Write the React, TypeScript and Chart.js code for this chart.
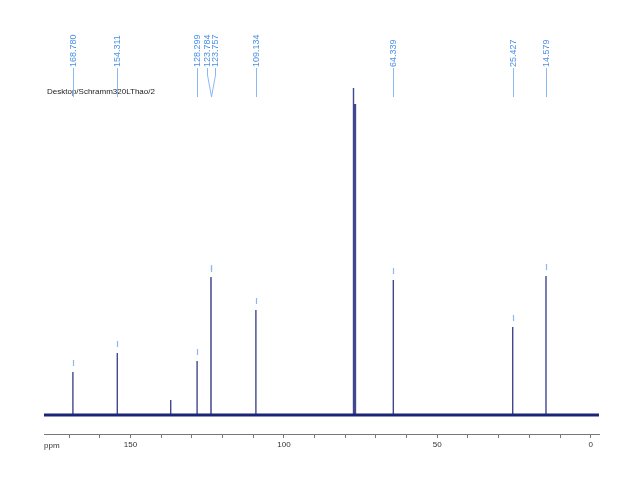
import React, { useEffect, useRef } from "react";
import { Chart, registerables } from "chart.js";

Chart.register(...registerables);

// ---- data ----
const peakPpm = [168.78, 154.311, 136.9, 128.299, 123.784, 123.757, 109.134, 77.32, 77.0, 76.68, 64.339, 25.427, 14.579];
const peakIntensity = [43, 62, 15, 54, 138, 137, 105, 327, 311, 311, 135, 88, 139];
const pickedPpm = [168.78, 154.311, 128.299, 123.784, 123.757, 109.134, 64.339, 25.427, 14.579];
const pickedLabels = ["168.780", "154.311", "128.299", "123.784", "123.757", "109.134", "64.339", "25.427", "14.579"];
const axisTickValues = [0, 10, 20, 30, 40, 50, 60, 70, 80, 90, 100, 110, 120, 130, 140, 150, 160, 170];
const axisLabelValues = [0, 50, 100, 150];
const xRange = [-2.7, 178.2];
const yRange = [-19, 327];
const sampleName = "Desktop/Schramm320LThao/2";
const axisUnit = "ppm";

const NAVY = "#1c2478";
const PEAK = "rgba(32,40,122,0.85)";
const BLUE_TEXT = "#4a90e6";
const BLUE_LINE = "#8cb8f2";

function intensityAt(ppm: number): number {
  let best = 0;
  let bd = Infinity;
  peakPpm.forEach((p, i) => {
    const d = Math.abs(p - ppm);
    if (d < bd) {
      bd = d;
      best = peakIntensity[i];
    }
  });
  return best;
}

const annotationPlugin = {
  id: "nmrAnnotations",
  afterDatasetsDraw(chart: any) {
    const ctx = chart.ctx;
    const xs = chart.scales.x;
    const ys = chart.scales.y;
    ctx.save();

    // sample name
    ctx.fillStyle = "#222";
    ctx.font = "8px 'Liberation Sans', Arial, sans-serif";
    ctx.textBaseline = "middle";
    ctx.textAlign = "left";
    ctx.fillText(sampleName, 47, 92);

    // unit label on axis
    ctx.fillStyle = "#333";
    ctx.font = "8px 'Liberation Sans', Arial, sans-serif";
    ctx.fillText(axisUnit, xs.left, 446);

    // label positions (spread colliding labels around their group center)
    const items = pickedPpm.map((p, i) => ({ px: xs.getPixelForValue(p), lx: 0, text: pickedLabels[i], ppm: p }));
    items.sort((a, b) => a.px - b.px);
    const gap = 8;
    const groups: any[][] = [];
    items.forEach((it) => {
      const g = groups[groups.length - 1];
      if (g && it.px - g[g.length - 1].px < gap) g.push(it);
      else groups.push([it]);
    });
    groups.forEach((g) => {
      const mean = g.reduce((s, it) => s + it.px, 0) / g.length;
      const start = mean - ((g.length - 1) * gap) / 2;
      g.forEach((it, k) => (it.lx = start + k * gap));
    });

    const textBottom = 68;
    const bendY = 75;
    const lineEnd = 97;
    ctx.font = "9px 'Liberation Sans', Arial, sans-serif";
    items.forEach((it) => {
      // connector
      ctx.strokeStyle = BLUE_LINE;
      ctx.lineWidth = 1;
      ctx.beginPath();
      ctx.moveTo(Math.round(it.lx) + 0.5, textBottom);
      if (Math.abs(it.lx - it.px) < 0.5) {
        ctx.lineTo(Math.round(it.px) + 0.5, lineEnd);
      } else {
        ctx.lineTo(Math.round(it.lx) + 0.5, bendY);
        ctx.lineTo(Math.round(it.px) + 0.5, lineEnd);
      }
      ctx.stroke();
      // text
      ctx.save();
      ctx.translate(Math.round(it.lx) + 0.5, textBottom - 1);
      ctx.rotate(-Math.PI / 2);
      ctx.fillStyle = BLUE_TEXT;
      ctx.textAlign = "left";
      ctx.textBaseline = "middle";
      ctx.fillText(it.text, 0, 0);
      ctx.restore();
      // marker above peak
      const top = ys.getPixelForValue(intensityAt(it.ppm));
      ctx.strokeStyle = BLUE_LINE;
      ctx.lineWidth = 1.2;
      ctx.beginPath();
      ctx.moveTo(Math.round(it.px) + 0.5, top - 12);
      ctx.lineTo(Math.round(it.px) + 0.5, top - 6);
      ctx.stroke();
    });
    ctx.restore();
  },
};

export default function App() {
  const ref = useRef<HTMLCanvasElement | null>(null);
  useEffect(() => {
    if (!ref.current) return;
    const peakPoints: any[] = [];
    peakPpm.forEach((p, i) => {
      peakPoints.push({ x: p, y: 0 });
      peakPoints.push({ x: p, y: peakIntensity[i] });
      peakPoints.push({ x: p, y: null });
    });
    const chart = new Chart(ref.current, {
      type: "line",
      data: {
        datasets: [
          {
            data: [
              { x: xRange[1], y: 0 },
              { x: xRange[0], y: 0 },
            ],
            borderColor: NAVY,
            borderWidth: 3,
            pointRadius: 0,
          },
          {
            data: peakPoints,
            borderColor: PEAK,
            borderWidth: 1.4,
            pointRadius: 0,
            spanGaps: false,
          },
        ],
      },
      options: {
        animation: false,
        responsive: false,
        events: [],
        layout: { padding: { left: 44, right: 34, top: 88, bottom: 0 } },
        plugins: { legend: { display: false }, tooltip: { enabled: false } },
        scales: {
          x: {
            type: "linear",
            reverse: true,
            min: xRange[0],
            max: xRange[1],
            afterBuildTicks: (scale: any) => {
              scale.ticks = axisTickValues.map((v) => ({ value: v }));
            },
            afterFit: (scale: any) => {
              scale.height = 51;
            },
            ticks: {
              autoSkip: false,
              maxRotation: 0,
              padding: 2,
              color: "#333",
              font: { size: 8, family: "'Liberation Sans', Arial, sans-serif" },
              callback: (v: any) => (axisLabelValues.includes(Number(v)) ? String(v) : ""),
            },
            grid: { drawOnChartArea: false, drawTicks: true, tickLength: 4, color: "#777" },
            border: { display: true, color: "#777", width: 1 },
          },
          y: {
            type: "linear",
            display: false,
            min: yRange[0],
            max: yRange[1],
          },
        },
      },
      plugins: [annotationPlugin],
    } as any);
    return () => chart.destroy();
  }, []);
  return (
    <div style={{ position: "absolute", left: 0, top: 0, width: 633, height: 485, background: "#fff" }}>
      <canvas ref={ref} width={633} height={485} />
    </div>
  );
}
